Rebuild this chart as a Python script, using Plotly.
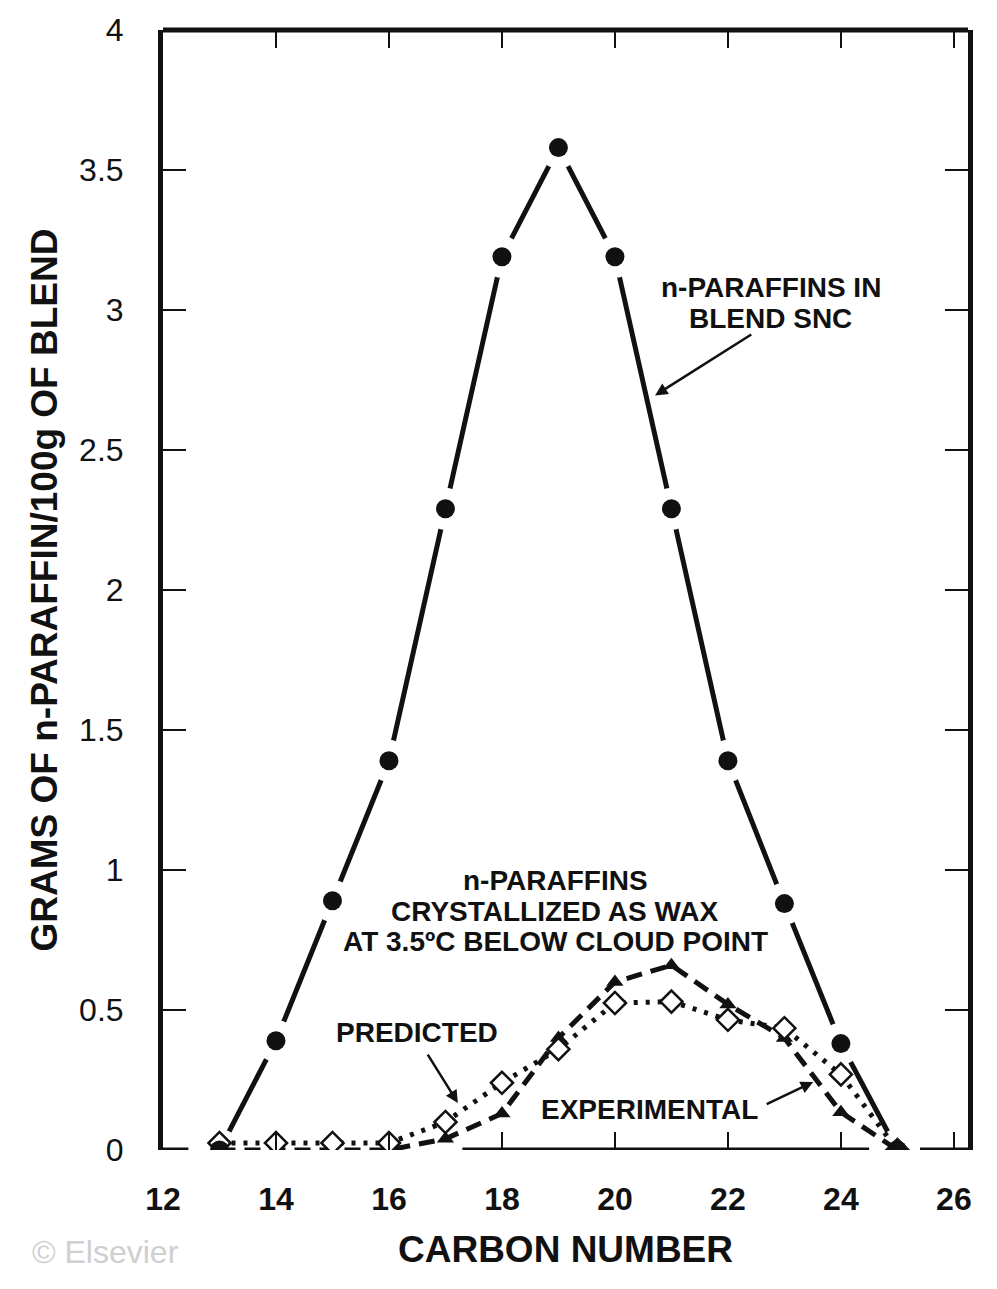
import plotly.graph_objects as go

# ---- data ----
carbon_number = [13, 14, 15, 16, 17, 18, 19, 20, 21, 22, 23, 24, 25]
blend_snc = [0.0, 0.39, 0.89, 1.39, 2.29, 3.19, 3.58, 3.19, 2.29, 1.39, 0.88, 0.38, 0.0]
predicted = [0.025, 0.025, 0.025, 0.025, 0.10, 0.24, 0.36, 0.525, 0.53, 0.465, 0.435, 0.27, 0.0]
experimental = [0.0, 0.0, 0.0, 0.0, 0.04, 0.13, 0.40, 0.60, 0.66, 0.52, 0.40, 0.135, 0.0]

x_ticks = [12, 14, 16, 18, 20, 22, 24, 26]
y_ticks = [0, 0.5, 1, 1.5, 2, 2.5, 3, 3.5, 4]
y_tick_text = ["0", "0.5", "1", "1.5", "2", "2.5", "3", "3.5", "4"]

FONT = "Liberation Sans, Arial, sans-serif"
INK = "#111111"

fig = go.Figure()

# Blend SNC: solid line with white halos so the line breaks at each dot
fig.add_trace(go.Scatter(x=carbon_number, y=blend_snc, mode="lines",
                         line=dict(color=INK, width=5), showlegend=False, hoverinfo="skip"))
fig.add_trace(go.Scatter(x=carbon_number, y=blend_snc, mode="markers",
                         marker=dict(symbol="circle", size=42, color="white", line=dict(width=0)),
                         showlegend=False, hoverinfo="skip"))

# Experimental: dashed line, filled triangles
fig.add_trace(go.Scatter(x=carbon_number, y=experimental, mode="lines+markers",
                         name="EXPERIMENTAL",
                         line=dict(color=INK, width=5, dash="16px,9px"),
                         marker=dict(symbol="triangle-up", size=15, color=INK),
                         showlegend=False))
# Predicted: dotted line, open diamonds
fig.add_trace(go.Scatter(x=carbon_number, y=predicted, mode="lines+markers",
                         name="PREDICTED",
                         line=dict(color=INK, width=5, dash="4px,8px"),
                         marker=dict(symbol="diamond", size=17, color="white",
                                     line=dict(color=INK, width=2.5)),
                         showlegend=False))
# Blend SNC dots on top
fig.add_trace(go.Scatter(x=carbon_number, y=blend_snc, mode="markers",
                         name="n-PARAFFINS IN BLEND SNC",
                         marker=dict(symbol="circle", size=19, color=INK),
                         showlegend=False))

X_MIN, X_MAX = 12.0, 26.25
Y_MIN, Y_MAX = 0.0, 4.0

W, H = 997, 1289
ML, MR, MT, MB = 163, 29, 30, 139
pw, ph = W - ML - MR, H - MT - MB

# frame: top line and broken bottom axis line
shapes = [
    dict(type="line", xref="paper", yref="paper", x0=0, x1=1, y0=1, y1=1,
         line=dict(color=INK, width=5), layer="below"),
]
for x0, x1 in [(X_MIN, 12.45), (17.3, 24.5), (25.4, X_MAX)]:
    shapes.append(dict(type="line", xref="x", yref="y", x0=x0, x1=x1, y0=0, y1=0,
                       line=dict(color=INK, width=5), layer="below"))

ann_font = dict(family=FONT, size=28, color=INK, weight="bold")


def label(x, y, text):
    return dict(x=x, y=y, xref="x", yref="y", text=text, showarrow=False,
                font=ann_font, xanchor="center", yanchor="middle")


def arrow(x, y, ax, ay):
    return dict(x=x, y=y, ax=ax, ay=ay, xref="x", yref="y", axref="x", ayref="y",
                text="", showarrow=True, arrowhead=2, arrowsize=1, arrowwidth=2.5,
                arrowcolor=INK)


annotations = [
    label(22.76, 3.079, "n-PARAFFINS IN"),
    label(22.76, 2.971, "BLEND SNC"),
    arrow(20.71, 2.695, 22.44, 2.916),
    label(18.94, 0.964, "n-PARAFFINS"),
    label(18.94, 0.852, "CRYSTALLIZED AS WAX"),
    label(18.94, 0.746, "AT 3.5\u00baC BELOW CLOUD POINT"),
    label(16.50, 0.421, "PREDICTED"),
    arrow(17.22, 0.168, 16.67, 0.346),
    label(20.62, 0.146, "EXPERIMENTAL"),
    arrow(23.51, 0.243, 22.66, 0.161),
    dict(x=(105 - ML) / pw, y=(H - MB - 1252) / ph, xref="paper", yref="paper",
         text="\u00a9 Elsevier", showarrow=False, xanchor="center", yanchor="middle",
         font=dict(family=FONT, size=32, color="#cfcfcf")),
]

fig.update_layout(
    width=W, height=H,
    margin=dict(l=ML, r=MR, t=MT, b=MB, pad=0),
    paper_bgcolor="white", plot_bgcolor="white",
    font=dict(family=FONT, color=INK),
    shapes=shapes, annotations=annotations,
    xaxis=dict(range=[X_MIN, X_MAX], tickvals=x_ticks, ticktext=[str(v) for v in x_ticks],
               showline=False, mirror="ticks", ticks="inside", ticklen=18, tickwidth=2,
               tickcolor=INK, showgrid=False, zeroline=False,
               tickfont=dict(family=FONT, size=32, color=INK, weight="bold"),
               ticklabelstandoff=27,
               title=dict(text="CARBON NUMBER", standoff=20,
                          font=dict(family=FONT, size=37, color=INK, weight="bold"))),
    yaxis=dict(range=[Y_MIN, Y_MAX], tickvals=y_ticks, ticktext=y_tick_text,
               showline=True, linewidth=5, linecolor=INK, mirror="ticks",
               ticks="inside", ticklen=23, tickwidth=2, tickcolor=INK,
               showgrid=False, zeroline=False,
               tickfont=dict(family=FONT, size=32, color=INK),
               ticklabelstandoff=28,
               title=dict(text="GRAMS OF n-PARAFFIN/100g OF BLEND", standoff=12,
                          font=dict(family=FONT, size=37, color=INK, weight="bold"))),
)

fig.write_html("out.html")
